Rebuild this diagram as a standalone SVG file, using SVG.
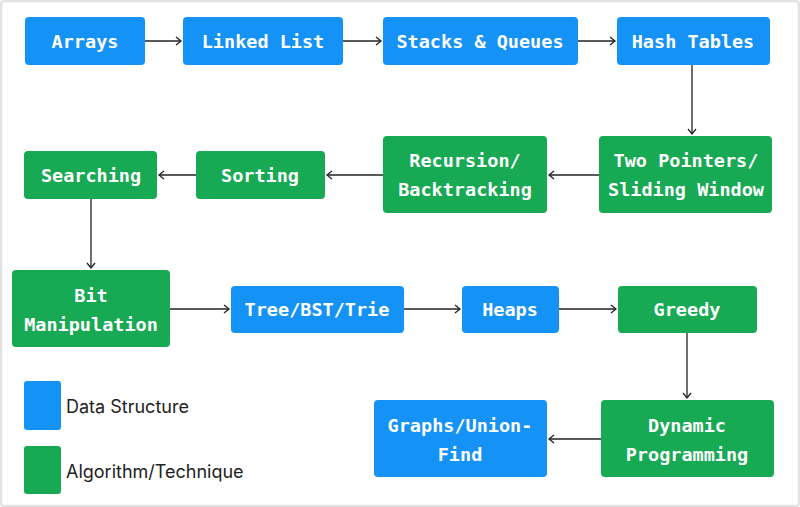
<svg xmlns="http://www.w3.org/2000/svg" width="800" height="507" viewBox="0 0 800 507">
<style>
.b{fill:#1592f5}.g{fill:#17a953}
.t{fill:#fff;font-family:"DejaVu Sans Mono",monospace;font-weight:bold;font-size:18.5px;text-anchor:middle;dominant-baseline:central}
.l{fill:#222;font-family:Inter,"Liberation Sans",sans-serif;font-size:18px;dominant-baseline:central}
.c{stroke:#222;stroke-width:1.3;fill:none;marker-end:url(#a)}
</style>
<defs><marker id="a" markerWidth="10" markerHeight="10" refX="8" refY="5" orient="auto" markerUnits="userSpaceOnUse"><path d="M3,1 L8,5 L3,9" fill="none" stroke="#222" stroke-width="1.3"/></marker></defs>
<rect x="1" y="1" width="798" height="505" fill="#fff" stroke="#e2e2e2" stroke-width="2.5" rx="3"/>
<g id="connectors">
<path class="c" d="M145,41 H181"/>
<path class="c" d="M343,41 H381"/>
<path class="c" d="M578,41 H615"/>
<path class="c" d="M692,65 V134"/>
<path class="c" d="M599,175 H549"/>
<path class="c" d="M383,175 H327"/>
<path class="c" d="M196,175 H159"/>
<path class="c" d="M91,199 V268"/>
<path class="c" d="M170,309 H229"/>
<path class="c" d="M404,309 H460"/>
<path class="c" d="M559,309 H616"/>
<path class="c" d="M687,333 V398"/>
<path class="c" d="M601,439 H549"/>
</g>
<g id="arrays"><rect class="b" x="25" y="17" width="120" height="48" rx="4"/><text class="t" x="85" y="41">Arrays</text></g>
<g id="linked"><rect class="b" x="183" y="17" width="160" height="48" rx="4"/><text class="t" x="263" y="41">Linked List</text></g>
<g id="stacks"><rect class="b" x="383" y="17" width="195" height="48" rx="4"/><text class="t" x="480" y="41">Stacks &amp; Queues</text></g>
<g id="hash"><rect class="b" x="617" y="17" width="153" height="48" rx="4"/><text class="t" x="693" y="41">Hash Tables</text></g>
<g id="twoptr"><rect class="g" x="599" y="136" width="173" height="77" rx="4"/><text class="t" x="686" y="160">Two Pointers/</text><text class="t" x="686" y="189">Sliding Window</text></g>
<g id="recursion"><rect class="g" x="383" y="136" width="164" height="77" rx="4"/><text class="t" x="465" y="160">Recursion/</text><text class="t" x="465" y="189">Backtracking</text></g>
<g id="sorting"><rect class="g" x="196" y="151" width="129" height="48" rx="4"/><text class="t" x="260" y="175">Sorting</text></g>
<g id="searching"><rect class="g" x="24" y="151" width="133" height="48" rx="4"/><text class="t" x="91" y="175">Searching</text></g>
<g id="bit"><rect class="g" x="12" y="270" width="158" height="77" rx="4"/><text class="t" x="91" y="295">Bit</text><text class="t" x="91" y="324">Manipulation</text></g>
<g id="tree"><rect class="b" x="231" y="286" width="173" height="47" rx="4"/><text class="t" x="317" y="309">Tree/BST/Trie</text></g>
<g id="heaps"><rect class="b" x="462" y="286" width="97" height="47" rx="4"/><text class="t" x="510" y="309">Heaps</text></g>
<g id="greedy"><rect class="g" x="618" y="286" width="139" height="47" rx="4"/><text class="t" x="687" y="309">Greedy</text></g>
<g id="dp"><rect class="g" x="601" y="400" width="173" height="77" rx="4"/><text class="t" x="687" y="425">Dynamic</text><text class="t" x="687" y="454">Programming</text></g>
<g id="graphs"><rect class="b" x="374" y="400" width="173" height="77" rx="4"/><text class="t" x="460" y="425">Graphs/Union-</text><text class="t" x="460" y="454">Find</text></g>
<g id="legend">
<rect class="b" x="24" y="381" width="37" height="49" rx="3"/><text class="l" x="66" y="406">Data Structure</text>
<rect class="g" x="24" y="446" width="37" height="48" rx="3"/><text class="l" x="66" y="471">Algorithm/Technique</text>
</g>
</svg>
